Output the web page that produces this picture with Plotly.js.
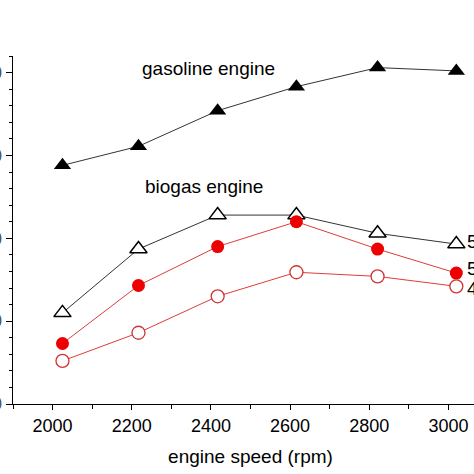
<!DOCTYPE html>
<html>
<head>
<meta charset="utf-8">
<script src="https://cdn.plot.ly/plotly-3.0.1.min.js"></script>
<style>
  html, body { margin: 0; padding: 0; overflow: hidden; width: 474px; height: 474px; background: #fff; }
  #chart { position: absolute; left: -50px; top: 0; width: 558px; height: 474px; }
</style>
</head>
<body>
<div id="chart"></div>
<script>
// Engine speed (rpm) for each measuring point
const speedRpm = [2025, 2217, 2417, 2616, 2821, 3020];

// Output of the gasoline engine and of the biogas engine at three fuel grades
const gasoline   = [28.8, 31.1, 35.4, 38.3, 40.6, 40.2];
const biogasHigh = [11.0, 18.7, 22.8, 22.8, 20.6, 19.3];
const biogasMid  = [7.3, 14.3, 19.0, 22.0, 18.7, 15.8];
const biogasLow  = [5.2, 8.6, 13.0, 15.9, 15.4, 14.2];

// Series end labels
const seriesLabels = ['55% CH\u2084', '50% CH\u2084', '45% CH\u2084'];
const yTickVals = [0, 10, 20, 30, 40];
const xTickVals = [2000, 2200, 2400, 2600, 2800, 3000];

const dark = '#333333';
const red = 'rgb(222,60,60)';

const traces = [
  {
    x: speedRpm, y: gasoline, mode: 'lines+markers', cliponaxis: false,
    line: { color: dark, width: 1 },
    marker: { symbol: 'triangle-up', size: 15, color: '#000', line: { width: 0 } }
  },
  {
    x: speedRpm, y: biogasHigh, mode: 'lines+markers', cliponaxis: false,
    line: { color: dark, width: 1 },
    marker: { symbol: 'triangle-up', size: 15, color: '#fff', line: { color: '#000', width: 1.5 } }
  },
  {
    x: speedRpm, y: biogasMid, mode: 'lines+markers', cliponaxis: false,
    line: { color: red, width: 1 },
    marker: { symbol: 'circle', size: 13, color: '#ee0000', line: { width: 0 } }
  },
  {
    x: speedRpm, y: biogasLow, mode: 'lines+markers', cliponaxis: false,
    line: { color: red, width: 1 },
    marker: { symbol: 'circle', size: 13, color: '#fff', line: { color: 'rgb(210,50,50)', width: 1.3 } }
  }
];

const fam = 'Liberation Sans, Arial, sans-serif';
const labelFont = { family: fam, size: 19, color: '#000' };
const tickFont = { family: fam, size: 18, color: '#000' };

const annotations = [
  { x: 2395, y: 40.5, text: 'gasoline engine', showarrow: false, xanchor: 'center', yanchor: 'middle', font: labelFont },
  { x: 2382, y: 26.3, text: 'biogas engine', showarrow: false, xanchor: 'center', yanchor: 'middle', font: labelFont },
  { x: 3043, y: 19.6, text: seriesLabels[0], showarrow: false, xanchor: 'left', yanchor: 'middle', font: labelFont },
  { x: 3043, y: 16.3, text: seriesLabels[1], showarrow: false, xanchor: 'left', yanchor: 'middle', font: labelFont },
  { x: 3043, y: 13.9, text: seriesLabels[2], showarrow: false, xanchor: 'left', yanchor: 'middle', font: labelFont }
];

const layout = {
  width: 558, height: 474,
  margin: { l: 63, r: 20, t: 56, b: 70 },
  paper_bgcolor: '#fff', plot_bgcolor: '#fff',
  showlegend: false,
  font: labelFont,
  xaxis: {
    range: [1900, 3100], tickvals: xTickVals, ticks: 'outside', ticklen: 5, tickwidth: 1, tickcolor: '#000',
    minor: { dtick: 100, tick0: 1900, ticks: 'outside', ticklen: 4, tickcolor: '#000', tickwidth: 1 },
    showline: true, linecolor: '#000', linewidth: 1.3, showgrid: false, zeroline: false,
    tickfont: tickFont,
    title: { text: 'engine speed (rpm)', font: labelFont, standoff: 14 }
  },
  yaxis: {
    range: [0, 42], tickvals: yTickVals, ticks: 'outside', ticklen: 6, tickwidth: 1, tickcolor: '#000',
    minor: { dtick: 2, tick0: 0, ticks: 'outside', ticklen: 3, tickcolor: '#000', tickwidth: 1 },
    showline: true, linecolor: '#000', linewidth: 1.3, showgrid: false, zeroline: false,
    tickfont: { family: fam, size: 18, color: '#555' }
  },
  annotations: annotations
};

Plotly.newPlot('chart', traces, layout, { staticPlot: true, displayModeBar: false });
</script>
</body>
</html>
